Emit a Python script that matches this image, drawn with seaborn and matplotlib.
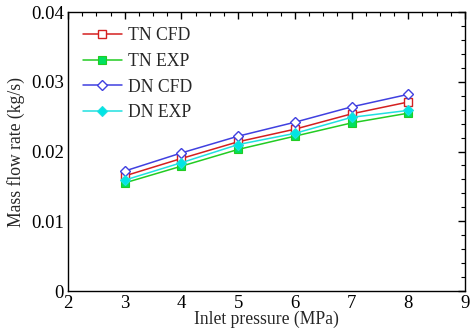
import matplotlib
matplotlib.use("Agg")
import matplotlib.pyplot as plt
import seaborn as sns
import pandas as pd
from matplotlib.ticker import MultipleLocator, FuncFormatter

pressure = [3, 4, 5, 6, 7, 8]
tn_cfd = [0.0165, 0.0190, 0.0214, 0.0232, 0.0254, 0.0271]
tn_exp = [0.0155, 0.0179, 0.0203, 0.0222, 0.0241, 0.0255]
dn_cfd = [0.0172, 0.0198, 0.0222, 0.0242, 0.0264, 0.0282]
dn_exp = [0.0159, 0.0184, 0.0210, 0.0226, 0.0249, 0.0259]
series_names = ["TN CFD", "TN EXP", "DN CFD", "DN EXP"]

sns.set_theme(style="white")
plt.rcParams['font.family'] = ['Liberation Serif', 'DejaVu Serif']

fig = plt.figure(figsize=(4.74, 3.34), dpi=100)
ax = fig.add_axes([0.1435, 0.1287, 0.8375, 0.8353])

styles = {
    "TN CFD": dict(color="#D42020", marker="s", mfc="white", ms=5.8, mew=1.0),
    "TN EXP": dict(color="#22CC22", marker="s", mfc="#00E060", ms=5.5, mew=0.8),
    "DN CFD": dict(color="#4040E0", marker="D", mfc="white", ms=5.6, mew=1.0),
    "DN EXP": dict(color="#20E0E0", marker="D", mfc="#00E5E5", ms=5.0, mew=0.8),
}
data = [tn_cfd, tn_exp, dn_cfd, dn_exp]
for name, vals in zip(series_names, data):
    df = pd.DataFrame({"x": pressure, "y": vals})
    st = styles[name]
    sns.lineplot(data=df, x="x", y="y", ax=ax, color=st["color"], marker=st["marker"],
                 markerfacecolor=st["mfc"], markeredgecolor=st["color"], markersize=st["ms"],
                 markeredgewidth=st["mew"], linewidth=1.1, label=name)

ax.set_xlim(2, 9)
ax.set_ylim(0, 0.04)
ax.xaxis.set_major_locator(MultipleLocator(1))
ax.xaxis.set_minor_locator(MultipleLocator(0.25))
ax.yaxis.set_major_locator(MultipleLocator(0.01))
ax.yaxis.set_minor_locator(MultipleLocator(0.002))
ax.yaxis.set_major_formatter(FuncFormatter(lambda v, p: "0" if abs(v) < 1e-9 else f"{v:.2f}"))
ax.tick_params(which="both", direction="in", top=True, right=True, colors="black", labelsize=13.5)
ax.tick_params(which="major", length=5, width=1, pad=3)
ax.tick_params(which="minor", length=3, width=0.8)
for s in ax.spines.values():
    s.set_color("black")
    s.set_linewidth(1.0)

ax.set_xlabel("Inlet pressure (MPa)", fontsize=12.7, labelpad=-1)
ax.set_ylabel("Mass flow rate (kg/s)", fontsize=12.7, labelpad=4)

leg = ax.legend(loc="upper left", frameon=False, fontsize=12.7, handlelength=2.2,
                handletextpad=0.35, labelspacing=0.5, borderaxespad=0.45)

fig.savefig("out.png", dpi=100)
